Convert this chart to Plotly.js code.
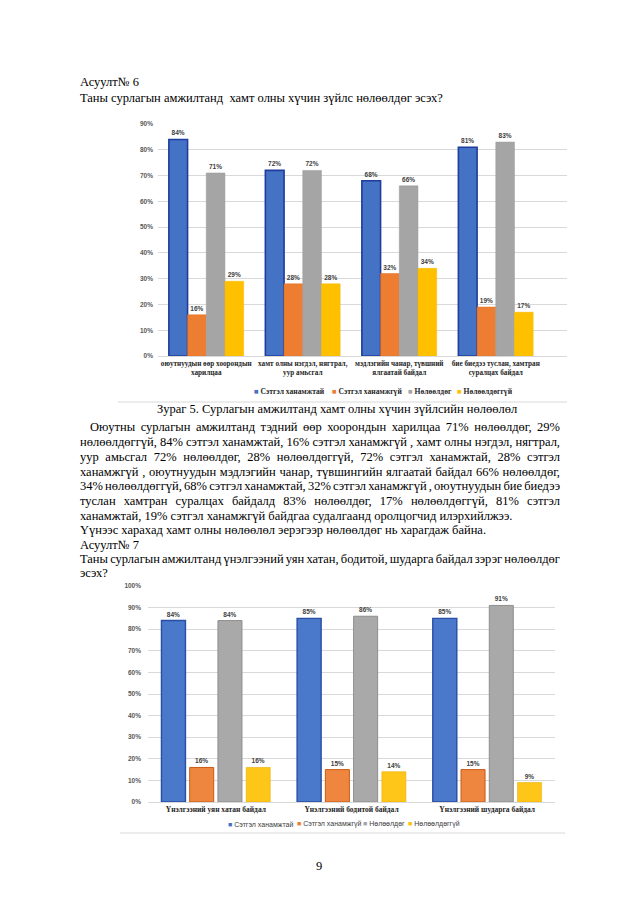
<!DOCTYPE html>
<html>
<head>
<meta charset="utf-8">
<script src="https://cdn.plot.ly/plotly-3.0.1.min.js"></script>
<style>
  html, body { margin:0; padding:0; background:#fff; }
  body { width:638px; height:902px; position:relative; overflow:hidden;
         font-family:"Liberation Serif","Times New Roman",serif; color:#000; }
  .t { position:absolute; left:80px; width:480px; font-size:12.5px; line-height:15px; height:15px; white-space:pre; }
  .j { white-space:nowrap; }
  #c1 { position:absolute; left:0; top:110px; width:638px; height:300px; }
  #c2 { position:absolute; left:0; top:575px; width:638px; height:265px; }
</style>
</head>
<body>
<div class="t" style="top:75px">Асуулт№ 6</div>
<div class="t" style="top:91px">Таны сурлагын амжилтанд  хамт олны хүчин зүйлс нөлөөлдөг эсэх?</div>

<div id="c1"></div>

<div class="t" style="top:402px;left:157px;width:420px">Зураг 5. Сурлагын амжилтанд хамт олны хүчин зүйлсийн нөлөөлөл</div>
<div class="t j" style="top:420px;left:90px;width:470px"><span>Оюутны сурлагын амжилтанд тэдний өөр хоорондын харилцаа 71% нөлөөлдөг, 29%</span></div>
<div class="t j" style="top:435px"><span>нөлөөлдөггүй, 84% сэтгэл ханамжтай, 16% сэтгэл ханамжгүй , хамт олны нэгдэл, нягтрал,</span></div>
<div class="t j" style="top:450px"><span>уур амьсгал 72% нөлөөлдөг, 28% нөлөөлдөггүй, 72% сэтгэл ханамжтай, 28% сэтгэл</span></div>
<div class="t j" style="top:465px"><span>ханамжгүй , оюутнуудын мэдлэгийн чанар, түвшингийн ялгаатай байдал 66% нөлөөлдөг,</span></div>
<div class="t j" style="top:479px"><span>34% нөлөөлдөггүй, 68% сэтгэл ханамжтай, 32% сэтгэл ханамжгүй , оюутнуудын бие биедээ</span></div>
<div class="t j" style="top:494px"><span>туслан хамтран суралцах байдалд 83% нөлөөлдөг, 17% нөлөөлдөггүй, 81% сэтгэл</span></div>
<div class="t" style="top:509px">ханамжтай, 19% сэтгэл ханамжгүй байдгаа судалгаанд оролцогчид илэрхийлжээ.</div>
<div class="t" style="top:523px">Үүнээс харахад хамт олны нөлөөлөл эерэгээр нөлөөлдөг нь харагдаж байна.</div>
<div class="t" style="top:538px">Асуулт№ 7</div>
<div class="t j" style="top:552px"><span>Таны сурлагын амжилтанд үнэлгээний уян хатан, бодитой, шударга байдал зэрэг нөлөөлдөг</span></div>
<div class="t" style="top:566px">эсэх?</div>

<div id="c2"></div>

<div class="t" style="top:859px;left:0;width:638px;text-align:center">9</div>

<script>
// justify single lines by adjusting word spacing
document.querySelectorAll('.j').forEach(el => {
  const span = el.querySelector('span');
  const target = el.clientWidth;
  const natural = span.getBoundingClientRect().width;
  const spaces = (span.textContent.match(/ /g) || []).length;
  if (spaces > 0) span.style.wordSpacing = ((target - natural) / spaces) + 'px';
});

// ---------- DATA ----------
const seriesNames = ['Сэтгэл ханамжтай', 'Сэтгэл ханамжгүй', 'Нөлөөлдөг', 'Нөлөөлдөггүй'];

const categories1 = [
  'оюутнуудын өөр хоорондын<br>харилцаа',
  'хамт олны нэгдэл, нягтрал,<br>уур амьсгал',
  'мэдлэгийн чанар, түвшний<br>ялгаатай байдал',
  'бие биедээ туслан, хамтран<br>суралцах байдал'
];
const satisfied1   = [84, 72, 68, 81];
const unsatisfied1 = [16, 28, 32, 19];
const influences1  = [71, 72, 66, 83];
const noInfluence1 = [29, 28, 34, 17];

const categories2 = [
  'Үнэлгээний уян хатан байдал',
  'Үнэлгээний бодитой байдал',
  'Үнэлгээний шударга байдал'
];
const satisfied2   = [84, 85, 85];
const unsatisfied2 = [16, 15, 15];
const influences2  = [84, 86, 91];
const noInfluence2 = [16, 14, 9];

const yTicks1 = [0, 10, 20, 30, 40, 50, 60, 70, 80, 90];
const yTicks2 = [0, 10, 20, 30, 40, 50, 60, 70, 80, 90, 100];

// ---------- STYLE ----------
const fills   = ['#4472C4', '#ED7D31', '#A5A5A5', '#FFC000'];
const fills2  = ['#4A78CA', '#EF8640', '#A9A9A9', '#FFC61A'];
const lines1  = [{color:'#1F3C9E', width:1.6}, {color:'#E07020', width:0.5}, {color:'#9A9A9A', width:0.5}, {color:'#F5B800', width:0.5}];
const lines2  = [{color:'#2A4DA6', width:1.4}, {color:'#C95A14', width:1}, {color:'#8E8E8E', width:1}, {color:'#E8AE00', width:0.6}];
const labelFont = {family:'Liberation Sans, Arial, sans-serif', size:6.5, color:'#404040', weight:'bold'};

function makeTraces(cats, seriesVals, lineStyles, fillCols) {
  return seriesVals.map((vals, i) => ({
    type:'bar', x:cats, y:vals, name:seriesNames[i],
    marker:{color:fillCols[i], line:lineStyles[i]},
    text: vals.map(v => v + '%'), textposition:'outside', cliponaxis:false,
    textfont:labelFont, hoverinfo:'x+y+name'
  }));
}

function legendAnnos(xs, yLocal, W, H, m, font) {
  const pw = W - m.l - m.r, ph = H - m.t - m.b;
  return seriesNames.map((n, i) => ({
    xref:'paper', yref:'paper',
    x:(xs[i] - m.l) / pw, y:1 - (yLocal - m.t) / ph,
    xanchor:'left', yanchor:'middle', showarrow:false,
    text:'<span style="color:' + fills[i] + '">■</span> ' + n,
    font:font
  }));
}
function hLine(x0, x1, yLocal, W, H, m) {
  const pw = W - m.l - m.r, ph = H - m.t - m.b;
  const y = 1 - (yLocal - m.t) / ph;
  return {type:'line', xref:'paper', yref:'paper',
          x0:(x0 - m.l) / pw, x1:(x1 - m.l) / pw, y0:y, y1:y,
          line:{color:'#D9D9D9', width:1}};
}

// ---------- CHART 1 ----------
const m1 = {l:158, r:71, t:14, b:54};
const layout1 = {
  width:638, height:300, margin:m1,
  paper_bgcolor:'rgba(0,0,0,0)', plot_bgcolor:'rgba(0,0,0,0)',
  barmode:'group', bargap:0.225, bargroupgap:0, showlegend:false,
  font:{family:'Liberation Sans, Arial, sans-serif'},
  xaxis:{type:'category', range:[-0.5, 3.738], showgrid:false, zeroline:false,
         showline:true, linecolor:'#D9D9D9', linewidth:1, ticks:'', tickangle:0,
         tickfont:{family:'Liberation Serif, Times New Roman, serif', size:7.2, color:'#262626', weight:'bold'}},
  yaxis:{range:[0, 90], tickvals:yTicks1, ticktext:yTicks1.map(v => v + '%'),
         showgrid:true, gridcolor:'#D9D9D9', gridwidth:1, zeroline:false, showline:false,
         ticks:'', ticklabelstandoff:4,
         tickfont:{family:'Liberation Sans, Arial, sans-serif', size:6.5, color:'#595959', weight:'bold'}},
  annotations: legendAnnos([252, 330, 406, 455], 281, 638, 300, m1,
      {family:'Liberation Serif, Times New Roman, serif', size:7.6, color:'#262626', weight:'bold'}),
  shapes:[hLine(118, 567, 292, 638, 300, m1)]
};
Plotly.newPlot('c1',
  makeTraces(categories1, [satisfied1, unsatisfied1, influences1, noInfluence1], lines1, fills),
  layout1, {staticPlot:true});

// ---------- CHART 2 ----------
const m2 = {l:148, r:83, t:11, b:38};
const layout2 = {
  width:638, height:265, margin:m2,
  paper_bgcolor:'rgba(0,0,0,0)', plot_bgcolor:'rgba(0,0,0,0)',
  barmode:'group', bargap:0.167, bargroupgap:0.15, showlegend:false,
  font:{family:'Liberation Sans, Arial, sans-serif'},
  xaxis:{type:'category', showgrid:false, zeroline:false,
         showline:true, linecolor:'#D9D9D9', linewidth:1, ticks:'', tickangle:0,
         tickfont:{family:'Liberation Serif, Times New Roman, serif', size:7.5, color:'#262626', weight:'bold'}},
  yaxis:{range:[0, 100], tickvals:yTicks2, ticktext:yTicks2.map(v => v + '%'),
         showgrid:true, gridcolor:'#D9D9D9', gridwidth:1, zeroline:false, showline:false,
         ticks:'', ticklabelstandoff:6,
         tickfont:{family:'Liberation Sans, Arial, sans-serif', size:6.5, color:'#595959', weight:'bold'}},
  annotations: legendAnnos([226, 295, 361, 406], 249, 638, 265, m2,
      {family:'Liberation Sans, Arial, sans-serif', size:7, color:'#404040'}),
  shapes:[hLine(120, 565, 258, 638, 265, m2)]
};
Plotly.newPlot('c2',
  makeTraces(categories2, [satisfied2, unsatisfied2, influences2, noInfluence2], lines2, fills2),
  layout2, {staticPlot:true});
</script>
</body>
</html>
